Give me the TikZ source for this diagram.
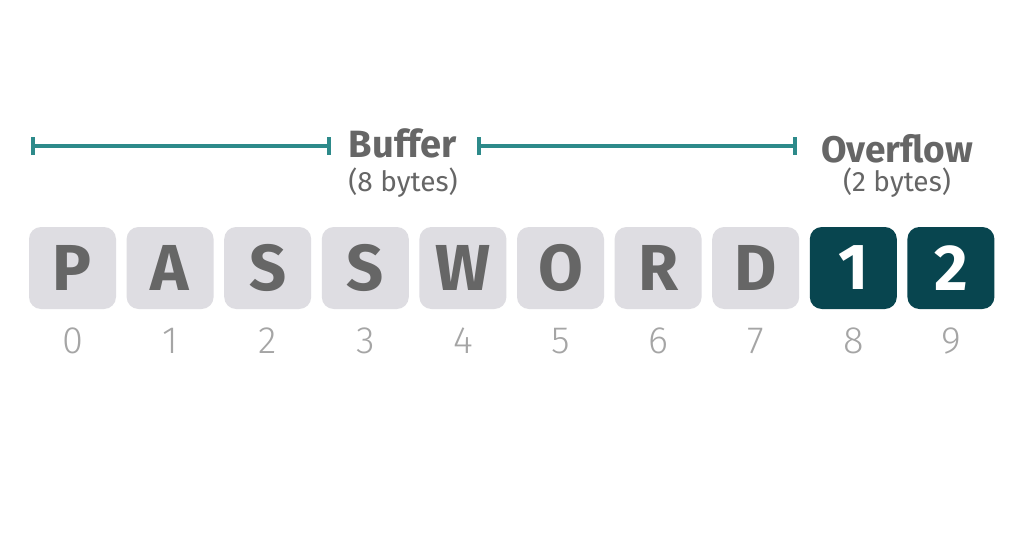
\documentclass[tikz,border=0pt]{standalone}
\usepackage{fontspec}
\setmainfont{Fira Sans}
\newfontfamily\idxfont{Fira Sans Light}
\usetikzlibrary{positioning,arrows.meta}
\definecolor{barteal}{RGB}{45,138,138}
\definecolor{celldark}{RGB}{8,69,79}
\definecolor{celllight}{RGB}{222,221,226}
\definecolor{textgray}{RGB}{102,102,102}
\definecolor{idxgray}{RGB}{165,165,165}
\begin{document}
\begin{tikzpicture}[x=0.5pt,y=-0.5pt]
                \useasboundingbox[fill=white] (0,0) rectangle (1024,536);

                \begin{scope}[every node/.style={rounded corners=6pt,inner sep=0pt,
                            minimum width=43.5pt,minimum height=41pt,
                            fill=celllight,text=textgray,font=\fontsize{32.5}{36}\bfseries}]
                    \node (b0) at (72.5,268) {P};
                    \node (b1) at (170.1,268) {A};
                    \node (b2) at (267.7,268) {S};
                    \node (b3) at (365.3,268) {S};
                    \node (b4) at (462.9,268) {W};
                    \node (b5) at (560.5,268) {O};
                    \node (b6) at (658.1,268) {R};
                    \node (b7) at (755.7,268) {D};
                    \node[fill=celldark,text=white] (b8) at (853.3,268) {1};
                    \node[fill=celldark,text=white] (b9) at (950.9,268) {2};
                \end{scope}

                \begin{scope}[every node/.style={inner sep=0pt,text=idxgray,
                            font=\idxfont\fontsize{19}{22}\selectfont}]
                    \node[below=9pt of b0] (i0) {0};
                    \node[below=9pt of b1] (i1) {1};
                    \node[below=9pt of b2] (i2) {2};
                    \node[below=9pt of b3] (i3) {3};
                    \node[below=9pt of b4] (i4) {4};
                    \node[below=9pt of b5] (i5) {5};
                    \node[below=9pt of b6] (i6) {6};
                    \node[below=9pt of b7] (i7) {7};
                    \node[below=9pt of b8] (i8) {8};
                    \node[below=9pt of b9] (i9) {9};
                \end{scope}

                \begin{scope}[every node/.style={inner sep=0pt,anchor=base,text=textgray}]
                    \node[font=\fontsize{19}{22}\bfseries] (buf) at (403,157) {Buffer};
                    \node[font=\fontsize{14}{16}\selectfont] (bufsz) at (403,191) {(8 bytes)};
                    \node[font=\fontsize{18.5}{22}\bfseries] (ovf) at (897,162) {Overflow};
                    \node[font=\fontsize{14}{16}\selectfont] (ovfsz) at (897,191) {(2 bytes)};
                \end{scope}

                \coordinate (bl1) at (31,146);
                \coordinate (br1) at (331,146);
                \coordinate (bl2) at (477,146);
                \coordinate (br2) at (797,146);
                \begin{scope}[every path/.style={draw=barteal,line width=1.6pt,
                            {Bar[width=9pt,line width=2pt]}-{Bar[width=9pt,line width=2pt]}}]
                    \path (bl1) -- (br1);
                    \path (bl2) -- (br2);
                \end{scope}
            \end{tikzpicture}
\end{document}
